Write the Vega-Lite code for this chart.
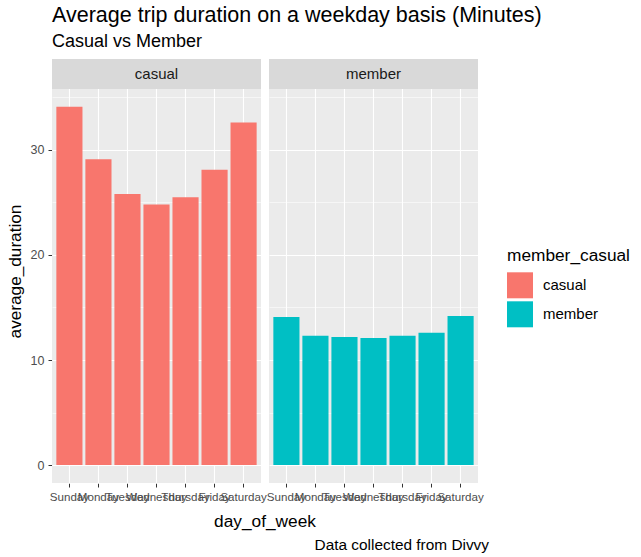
{
  "$schema": "https://vega.github.io/schema/vega-lite/v6.json",
  "background": "white",
  "padding": {"left": 6, "top": 4, "right": 5, "bottom": 5},
  "title": {
    "text": "Data collected from Divvy",
    "orient": "bottom",
    "anchor": "end",
    "frame": "group",
    "dx": 437,
    "font": "Liberation Sans",
    "fontSize": 15.4,
    "fontWeight": "normal",
    "color": "black",
    "offset": 8
  },
  "data": {
    "values": [
      {"member_casual": "casual", "day_of_week": "Sunday", "average_duration": 34.1},
      {"member_casual": "casual", "day_of_week": "Monday", "average_duration": 29.1},
      {"member_casual": "casual", "day_of_week": "Tuesday", "average_duration": 25.8},
      {"member_casual": "casual", "day_of_week": "Wednesday", "average_duration": 24.8},
      {"member_casual": "casual", "day_of_week": "Thursday", "average_duration": 25.5},
      {"member_casual": "casual", "day_of_week": "Friday", "average_duration": 28.1},
      {"member_casual": "casual", "day_of_week": "Saturday", "average_duration": 32.6},
      {"member_casual": "member", "day_of_week": "Sunday", "average_duration": 14.1},
      {"member_casual": "member", "day_of_week": "Monday", "average_duration": 12.3},
      {"member_casual": "member", "day_of_week": "Tuesday", "average_duration": 12.2},
      {"member_casual": "member", "day_of_week": "Wednesday", "average_duration": 12.1},
      {"member_casual": "member", "day_of_week": "Thursday", "average_duration": 12.3},
      {"member_casual": "member", "day_of_week": "Friday", "average_duration": 12.6},
      {"member_casual": "member", "day_of_week": "Saturday", "average_duration": 14.2}
    ]
  },
  "vconcat": [
    {
      "title": {
        "text": "Average trip duration on a weekday basis (Minutes)",
        "subtitle": "Casual vs Member",
        "anchor": "start",
        "frame": "group",
        "font": "Liberation Sans",
        "fontSize": 21.5,
        "fontWeight": "normal",
        "color": "black",
        "subtitleFont": "Liberation Sans",
        "subtitleFontSize": 18,
        "subtitleColor": "black",
        "subtitlePadding": 7,
        "offset": 8
      },
      "facet": {
        "column": {
          "field": "member_casual",
          "type": "nominal",
          "title": "day_of_week",
          "header": {
            "labels": false,
            "titleOrient": "bottom",
            "titleFont": "Liberation Sans",
            "titleFontSize": 17.3,
            "titleFontWeight": "normal",
            "titleColor": "black",
            "titlePadding": 0
          }
        }
      },
      "spacing": 8,
      "spec": {
        "width": 209,
        "height": 424,
        "layer": [
          {
            "mark": {"type": "bar"},
            "encoding": {
              "x": {
                "field": "day_of_week",
                "type": "ordinal",
                "sort": ["Sunday", "Monday", "Tuesday", "Wednesday", "Thursday", "Friday", "Saturday"],
                "scale": {"paddingInner": 0.1, "paddingOuter": 0.15},
                "title": null,
                "axis": {
                  "bandPosition": 0.5,
                  "labelAngle": 0,
                  "labelOverlap": false,
                  "labelBound": false,
                  "labelFlush": false,
                  "grid": true,
                  "gridColor": "white",
                  "gridWidth": 1.1,
                  "domain": false,
                  "tickColor": "#333333",
                  "tickSize": 4,
                  "labelPadding": 4,
                  "labelColor": "#4D4D4D",
                  "labelFont": "Liberation Sans",
                  "labelFontSize": 11.6
                }
              },
              "y": {
                "field": "average_duration",
                "type": "quantitative",
                "scale": {"domain": [-1.705, 38.65], "nice": false},
                "title": "average_duration",
                "axis": {
                  "values": [0, 5, 10, 15, 20, 25, 30, 35],
                  "labelExpr": "datum.value % 10 === 0 ? datum.label : ''",
                  "tickOpacity": {"condition": {"test": "datum.value % 10 === 0", "value": 1}, "value": 0},
                  "gridWidth": {"condition": {"test": "datum.value % 10 === 0", "value": 1.1}, "value": 0.55},
                  "gridColor": "white",
                  "grid": true,
                  "domain": false,
                  "tickColor": "#333333",
                  "tickSize": 4,
                  "labelPadding": 4,
                  "labelColor": "#4D4D4D",
                  "labelFont": "Liberation Sans",
                  "labelFontSize": 12.5,
                  "titleFont": "Liberation Sans",
                  "titleFontSize": 17.2,
                  "titleFontWeight": "normal",
                  "titleColor": "black",
                  "titlePadding": 6
                }
              },
              "color": {
                "field": "member_casual",
                "type": "nominal",
                "scale": {"domain": ["casual", "member"], "range": ["#F8766D", "#00BFC4"]},
                "legend": {
                  "title": "member_casual",
                  "orient": "none",
                  "legendX": 455,
                  "legendY": 188,
                  "symbolType": "square",
                  "symbolSize": 676,
                  "symbolStrokeWidth": 0,
                  "labelFont": "Liberation Sans",
                  "labelFontSize": 15,
                  "labelColor": "black",
                  "labelOffset": 10,
                  "rowPadding": 3,
                  "titleFont": "Liberation Sans",
                  "titleFontSize": 17.3,
                  "titleFontWeight": "normal",
                  "titleColor": "black",
                  "titlePadding": 8
                }
              }
            }
          },
          {
            "transform": [{"aggregate": [{"op": "count", "as": "n"}], "groupby": ["member_casual"]}],
            "mark": {"type": "rect", "color": "#D9D9D9"},
            "encoding": {"y": {"datum": 35.8}, "y2": {"datum": 38.65}}
          },
          {
            "transform": [{"aggregate": [{"op": "count", "as": "n"}], "groupby": ["member_casual"]}],
            "mark": {"type": "text", "font": "Liberation Sans", "fontSize": 15, "color": "#1A1A1A", "baseline": "middle"},
            "encoding": {"y": {"datum": 37.2}, "text": {"field": "member_casual", "type": "nominal"}}
          }
        ]
      }
    }
  ],
  "config": {
    "view": {"fill": "#EBEBEB", "stroke": null},
    "font": "Liberation Sans"
  }
}
